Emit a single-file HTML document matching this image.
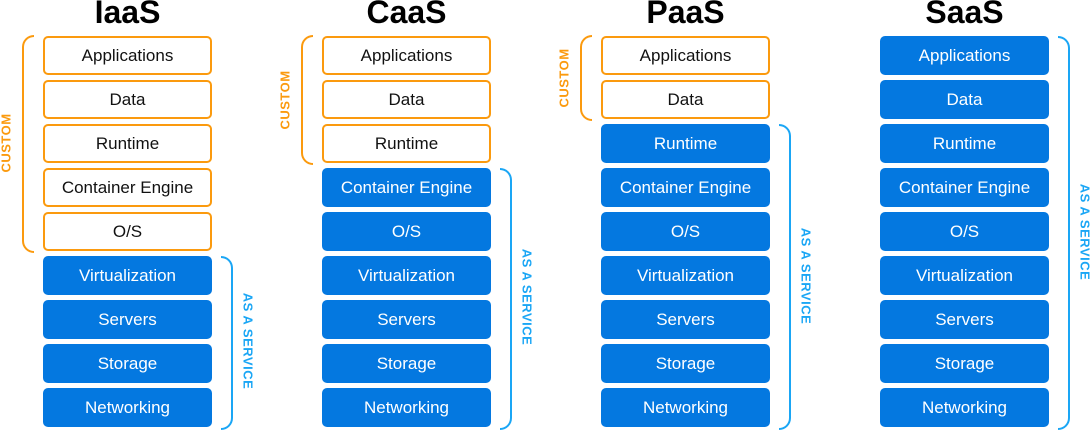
<!DOCTYPE html>
<html><head><style>
body{margin:0;width:1091px;height:429px;background:#fff;position:relative;overflow:hidden;font-family:"Liberation Sans",sans-serif}
.b{position:absolute;width:165px;height:35px;border-radius:5px;display:flex;align-items:center;justify-content:center;font-size:17px;box-sizing:content-box}
.o{border:2px solid #fb9a0e;color:#111;background:#fff}
.u{border:2px solid #0478e0;background:#0478e0;color:#fff}
.t{position:absolute;top:-6px;width:169px;text-align:center;font-weight:bold;font-size:32px;color:#000}
.bc{position:absolute;width:10px;border:2px solid #fb9a0e;border-right:none;border-radius:12px 0 0 12px}
.bs{position:absolute;width:10px;border:2px solid #1aa6f5;border-left:none;border-radius:0 12px 12px 0}
.lc,.ls{position:absolute;font-size:13px;font-weight:bold;white-space:nowrap;letter-spacing:0.5px}
.lc{color:#fb9a0e;transform:translate(-50%,-50%) rotate(-90deg)}
.ls{color:#1aa6f5;transform:translate(-50%,-50%) rotate(90deg)}
</style></head><body>
<div class="t" style="left:43px">IaaS</div>
<div class="t" style="left:322px">CaaS</div>
<div class="t" style="left:601px">PaaS</div>
<div class="t" style="left:880px">SaaS</div>
<div id="c"></div>
<script>
var names=["Applications","Data","Runtime","Container Engine","O/S","Virtualization","Servers","Storage","Networking"];
var xs=[43,322,601,880],custom=[5,3,2,0],h="";
for(var c=0;c<4;c++)for(var i=0;i<9;i++){h+='<div class="b '+(i<custom[c]?'o':'u')+'" style="left:'+xs[c]+'px;top:'+(36+44*i)+'px">'+names[i]+'</div>';}
document.getElementById('c').innerHTML=h;
</script>
<div class="bc" style="left:22px;top:35px;height:214px"></div>
<div class="lc" style="left:6px;top:143px">CUSTOM</div>
<div class="bs" style="left:221px;top:256px;height:170px"></div>
<div class="ls" style="left:248px;top:341px">AS A SERVICE</div>

<div class="bc" style="left:301px;top:35px;height:126px"></div>
<div class="lc" style="left:285px;top:100px">CUSTOM</div>
<div class="bs" style="left:500px;top:168px;height:258px"></div>
<div class="ls" style="left:527px;top:297px">AS A SERVICE</div>

<div class="bc" style="left:580px;top:35px;height:82px"></div>
<div class="lc" style="left:564px;top:78px">CUSTOM</div>
<div class="bs" style="left:779px;top:124px;height:302px"></div>
<div class="ls" style="left:806px;top:276px">AS A SERVICE</div>

<div class="bs" style="left:1058px;top:36px;height:390px"></div>
<div class="ls" style="left:1085px;top:232px">AS A SERVICE</div>
</body></html>
